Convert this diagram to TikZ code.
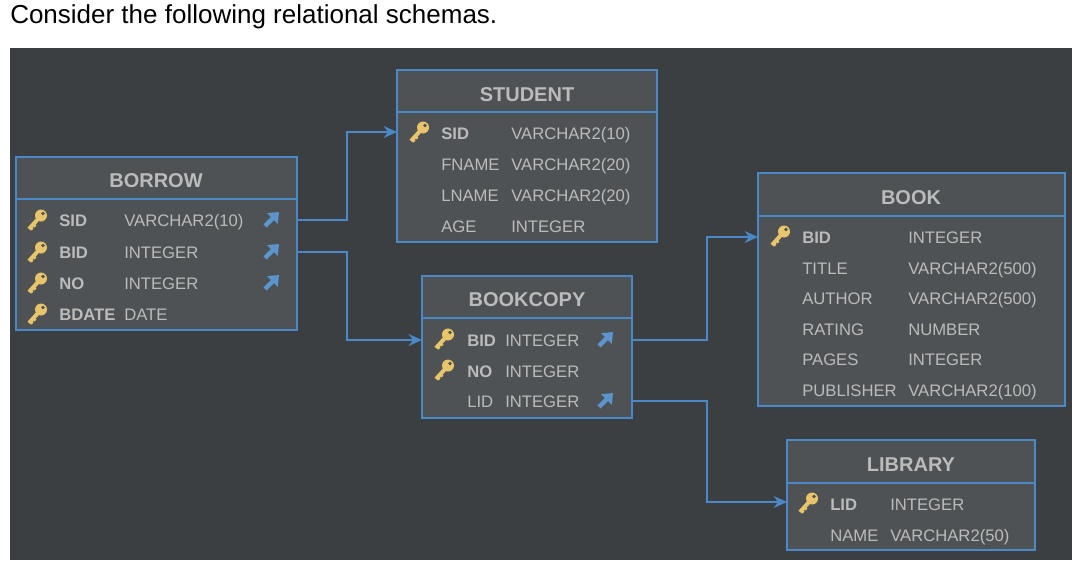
\documentclass[tikz,border=0pt]{standalone}
\usepackage{fontspec}
\setmainfont{Liberation Sans}
\usetikzlibrary{arrows.meta}
\definecolor{bg}{HTML}{3C3F41}
\definecolor{boxf}{HTML}{4E5254}
\definecolor{edge}{HTML}{4A88C7}
\definecolor{txt}{HTML}{BBBBBB}
\definecolor{gold}{HTML}{E8C46A}
\begin{document}
\begin{tikzpicture}[x=0.75pt,y=-0.75pt,
  tbl/.style={draw=edge,fill=boxf,line width=1.2pt},
  ttl/.style={text=txt,font=\fontsize{15}{16}\selectfont\bfseries},
  kname/.style={anchor=base west,yshift=-4.5pt,text=txt,font=\fontsize{12.5}{13}\selectfont\bfseries,inner sep=0},
  cname/.style={anchor=base west,yshift=-4.5pt,text=txt,font=\fontsize{12.5}{13}\selectfont,inner sep=0},
  ctype/.style={cname},
  conn/.style={draw=edge,line width=1pt,-{Stealth[length=10pt,width=9pt]}},
  key/.pic={\fill[gold] (3,-3.5) circle (6);
            \draw[gold,line width=3pt] (0,0) -- (-9,10);
            \draw[gold,line width=2pt] (-5,5) -- (-2.5,7.5) (-8,8)--(-5.5,10.5);
            \fill[boxf] (5,-5.5) circle (1.8);},
  fk/.pic={\draw[edge!90!white,line width=3.2pt,-{Triangle[length=7pt,width=11pt]}] (-7,7) -- (7,-7);}]
\useasboundingbox (0,0) rectangle (1080,560);
\fill[white] (0,0) rectangle (1080,560);
\node[anchor=west,inner sep=0,font=\fontsize{19.5}{21}\selectfont] (cap) at (10,17) {Consider the following relational schemas.};
\fill[bg] (10,48) rectangle (1072,560);
% STUDENT
\draw[tbl] (397,70) rectangle (657,242);
\draw[edge,line width=1.2pt] (397,112) -- (657,112);
\node[ttl] (st) at (527,95) {STUDENT};
\pic at (420,131) {key};
\node[kname] (s1) at (441,133) {SID}; \node[ctype] at (511,133) {VARCHAR2(10)};
\node[cname] (s2) at (441,164) {FNAME}; \node[ctype] at (511,164) {VARCHAR2(20)};
\node[cname] (s3) at (441,195) {LNAME}; \node[ctype] at (511,195) {VARCHAR2(20)};
\node[cname] (s4) at (441,226) {AGE}; \node[ctype] at (511,226) {INTEGER};
\coordinate (stin) at (397,132);
% BORROW
\draw[tbl] (16,157) rectangle (297,330);
\draw[edge,line width=1.2pt] (16,199) -- (297,199);
\node[ttl] (bo) at (156,181) {BORROW};
\foreach \y in {219,251,282,313} \pic at (38,\y) {key};
\node[kname] (b1) at (59,220) {SID}; \node[ctype] at (124,220) {VARCHAR2(10)};
\node[kname] (b2) at (59,252) {BID}; \node[ctype] at (124,252) {INTEGER};
\node[kname] (b3) at (59,283) {NO}; \node[ctype] at (124,283) {INTEGER};
\node[kname] (b4) at (59,314) {BDATE}; \node[ctype] at (124,314) {DATE};
\foreach \y in {219,251,282} \pic at (272,\y) {fk};
\coordinate (bout1) at (297,220); \coordinate (bout2) at (297,252);
% BOOK
\draw[tbl] (758,173) rectangle (1065,406);
\draw[edge,line width=1.2pt] (758,216) -- (1065,216);
\node[ttl] (bk) at (911,198) {BOOK};
\pic at (781,235) {key};
\node[kname] (k1) at (802,237) {BID}; \node[ctype] at (908,237) {INTEGER};
\node[cname] at (802,268) {TITLE}; \node[ctype] at (908,268) {VARCHAR2(500)};
\node[cname] at (802,298) {AUTHOR}; \node[ctype] at (908,298) {VARCHAR2(500)};
\node[cname] at (802,329) {RATING}; \node[ctype] at (908,329) {NUMBER};
\node[cname] at (802,359) {PAGES}; \node[ctype] at (908,359) {INTEGER};
\node[cname] at (802,390) {PUBLISHER}; \node[ctype] at (908,390) {VARCHAR2(100)};
\coordinate (bkin) at (758,237);
% BOOKCOPY
\draw[tbl] (422,276) rectangle (632,418);
\draw[edge,line width=1.2pt] (422,318) -- (632,318);
\node[ttl] (bc) at (527,300) {BOOKCOPY};
\pic at (445,338) {key}; \pic at (445,369) {key};
\node[kname] (c1) at (467,340) {BID}; \node[ctype] at (505,340) {INTEGER};
\node[kname] (c2) at (467,371) {NO}; \node[ctype] at (505,371) {INTEGER};
\node[cname] (c3) at (467,401) {LID}; \node[ctype] at (505,401) {INTEGER};
\pic at (606,339) {fk}; \pic at (606,400) {fk};
\coordinate (bcin) at (422,340); \coordinate (bcout1) at (632,340); \coordinate (bcout2) at (632,401);
% LIBRARY
\draw[tbl] (787,440) rectangle (1035,550);
\draw[edge,line width=1.2pt] (787,483) -- (1035,483);
\node[ttl] (lb) at (911,465) {LIBRARY};
\pic at (809,502) {key};
\node[kname] (l1) at (830,504) {LID}; \node[ctype] at (890,504) {INTEGER};
\node[cname] (l2) at (830,535) {NAME}; \node[ctype] at (890,535) {VARCHAR2(50)};
\coordinate (lbin) at (787,502);
% connectors
\draw[conn] (bout1) -- (347,220) |- (stin);
\draw[conn] (bout2) -- (347,252) |- (bcin);
\draw[conn] (bcout1) -- (707,340) |- (bkin);
\draw[conn] (bcout2) -- (707,401) |- (lbin);
\end{tikzpicture}
\end{document}
